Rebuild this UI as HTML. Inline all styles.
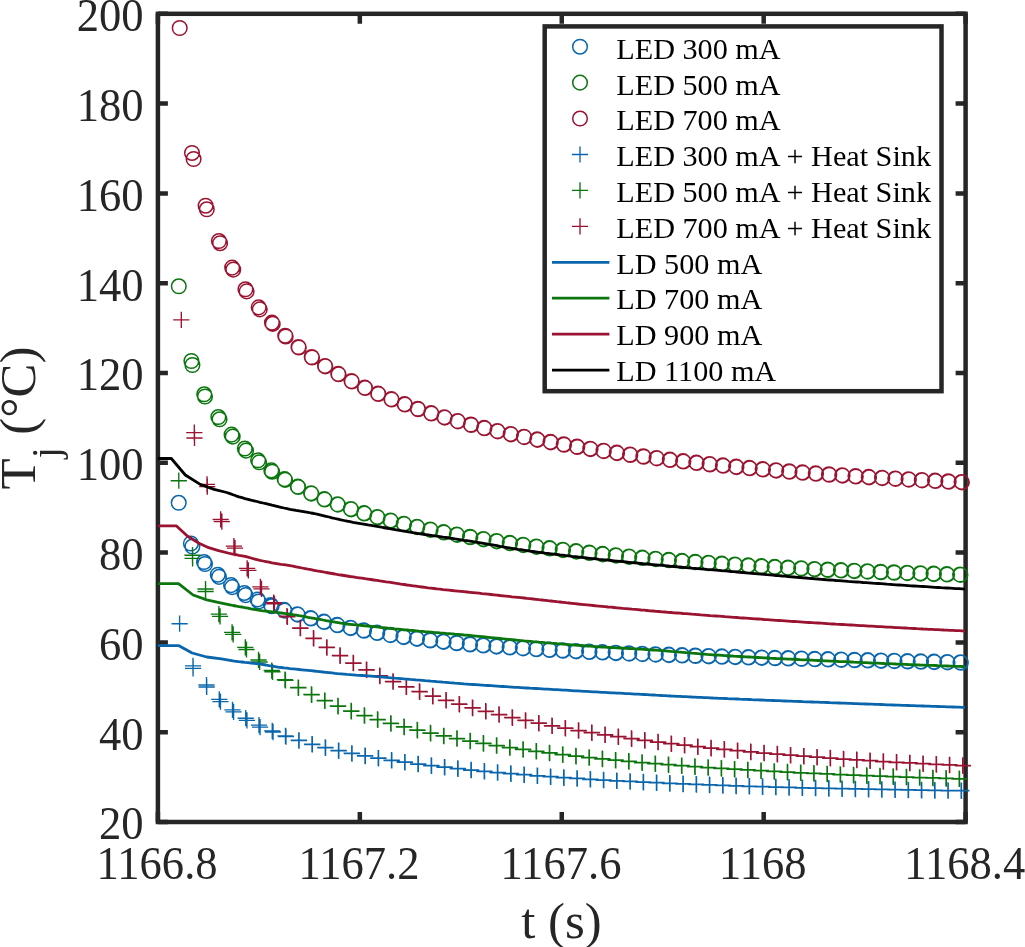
<!DOCTYPE html><html><head><meta charset="utf-8"><style>html,body{margin:0;padding:0;background:#fff;}svg{display:block;filter:blur(0.3px);}text{font-family:"Liberation Serif",serif;fill:#262626;}</style></head><body>
<svg width="1025" height="947" viewBox="0 0 1025 947">
<rect x="0" y="0" width="1025" height="947" fill="#fff"/>
<g stroke="#262626" stroke-width="4.5" fill="none" stroke-linecap="square">
<rect x="157.9" y="13.8" width="807.70" height="808.20"/>
<path d="M157.90 822.00H167.90M965.60 822.00H955.60M157.90 732.20H167.90M965.60 732.20H955.60M157.90 642.40H167.90M965.60 642.40H955.60M157.90 552.60H167.90M965.60 552.60H955.60M157.90 462.80H167.90M965.60 462.80H955.60M157.90 373.00H167.90M965.60 373.00H955.60M157.90 283.20H167.90M965.60 283.20H955.60M157.90 193.40H167.90M965.60 193.40H955.60M157.90 103.60H167.90M965.60 103.60H955.60M157.90 13.80H167.90M965.60 13.80H955.60M157.90 822.00V812.00M157.90 13.80V23.80M359.83 822.00V812.00M359.83 13.80V23.80M561.75 822.00V812.00M561.75 13.80V23.80M763.68 822.00V812.00M763.68 13.80V23.80M965.60 822.00V812.00M965.60 13.80V23.80" stroke-linecap="butt"/>
</g>
<text transform="matrix(1 0 0 1.045 0 -37.075)" x="143.6" y="838.80" font-size="44.6" text-anchor="end">20</text>
<text transform="matrix(1 0 0 1.045 0 -33.034)" x="143.6" y="749.00" font-size="44.6" text-anchor="end">40</text>
<text transform="matrix(1 0 0 1.045 0 -28.993)" x="143.6" y="659.20" font-size="44.6" text-anchor="end">60</text>
<text transform="matrix(1 0 0 1.045 0 -24.952)" x="143.6" y="569.40" font-size="44.6" text-anchor="end">80</text>
<text transform="matrix(1 0 0 1.045 0 -20.911)" x="143.6" y="479.60" font-size="44.6" text-anchor="end">100</text>
<text transform="matrix(1 0 0 1.045 0 -16.870)" x="143.6" y="389.80" font-size="44.6" text-anchor="end">120</text>
<text transform="matrix(1 0 0 1.045 0 -12.829)" x="143.6" y="300.00" font-size="44.6" text-anchor="end">140</text>
<text transform="matrix(1 0 0 1.045 0 -8.788)" x="143.6" y="210.20" font-size="44.6" text-anchor="end">160</text>
<text transform="matrix(1 0 0 1.045 0 -4.747)" x="143.6" y="120.40" font-size="44.6" text-anchor="end">180</text>
<text transform="matrix(1 0 0 1.045 0 -0.706)" x="143.6" y="30.60" font-size="44.6" text-anchor="end">200</text>
<text transform="matrix(1 0 0 1.045 0 -38.839)" x="157.10" y="878.4" font-size="44.6" text-anchor="middle">1166.8</text>
<text transform="matrix(1 0 0 1.045 0 -38.839)" x="359.03" y="878.4" font-size="44.6" text-anchor="middle">1167.2</text>
<text transform="matrix(1 0 0 1.045 0 -38.839)" x="560.95" y="878.4" font-size="44.6" text-anchor="middle">1167.6</text>
<text transform="matrix(1 0 0 1.045 0 -38.839)" x="762.88" y="878.4" font-size="44.6" text-anchor="middle">1168</text>
<text transform="matrix(1 0 0 1.045 0 -38.839)" x="964.80" y="878.4" font-size="44.6" text-anchor="middle">1168.4</text>
<text x="561.5" y="938" font-size="50.8" text-anchor="middle">t (s)</text>
<text transform="translate(34.6 418.0) rotate(-90)" font-size="50.8" text-anchor="middle">T<tspan font-size="39.5" dy="24.2">j</tspan><tspan dy="-24.2"> (°C)</tspan></text>
<path d="M171.40 502.80a7.3 7.3 0 1 0 14.6 0a7.3 7.3 0 1 0 -14.6 0M183.60 543.50a7.3 7.3 0 1 0 14.6 0a7.3 7.3 0 1 0 -14.6 0M185.10 546.50a7.3 7.3 0 1 0 14.6 0a7.3 7.3 0 1 0 -14.6 0M196.70 562.00a7.3 7.3 0 1 0 14.6 0a7.3 7.3 0 1 0 -14.6 0M197.70 564.00a7.3 7.3 0 1 0 14.6 0a7.3 7.3 0 1 0 -14.6 0M210.49 574.70a7.3 7.3 0 1 0 14.6 0a7.3 7.3 0 1 0 -14.6 0M211.69 576.90a7.3 7.3 0 1 0 14.6 0a7.3 7.3 0 1 0 -14.6 0M223.75 585.15a7.3 7.3 0 1 0 14.6 0a7.3 7.3 0 1 0 -14.6 0M224.85 587.15a7.3 7.3 0 1 0 14.6 0a7.3 7.3 0 1 0 -14.6 0M237.01 592.99a7.3 7.3 0 1 0 14.6 0a7.3 7.3 0 1 0 -14.6 0M238.21 595.09a7.3 7.3 0 1 0 14.6 0a7.3 7.3 0 1 0 -14.6 0M250.27 599.43a7.3 7.3 0 1 0 14.6 0a7.3 7.3 0 1 0 -14.6 0M251.37 601.43a7.3 7.3 0 1 0 14.6 0a7.3 7.3 0 1 0 -14.6 0M263.53 604.97a7.3 7.3 0 1 0 14.6 0a7.3 7.3 0 1 0 -14.6 0M264.33 606.27a7.3 7.3 0 1 0 14.6 0a7.3 7.3 0 1 0 -14.6 0M276.80 609.86a7.3 7.3 0 1 0 14.6 0a7.3 7.3 0 1 0 -14.6 0M277.30 610.66a7.3 7.3 0 1 0 14.6 0a7.3 7.3 0 1 0 -14.6 0M290.06 614.23a7.3 7.3 0 1 0 14.6 0a7.3 7.3 0 1 0 -14.6 0M290.41 614.63a7.3 7.3 0 1 0 14.6 0a7.3 7.3 0 1 0 -14.6 0M303.32 618.15a7.3 7.3 0 1 0 14.6 0a7.3 7.3 0 1 0 -14.6 0M303.67 618.55a7.3 7.3 0 1 0 14.6 0a7.3 7.3 0 1 0 -14.6 0M316.58 621.67a7.3 7.3 0 1 0 14.6 0a7.3 7.3 0 1 0 -14.6 0M316.93 622.07a7.3 7.3 0 1 0 14.6 0a7.3 7.3 0 1 0 -14.6 0M329.84 624.84a7.3 7.3 0 1 0 14.6 0a7.3 7.3 0 1 0 -14.6 0M330.19 625.24a7.3 7.3 0 1 0 14.6 0a7.3 7.3 0 1 0 -14.6 0M343.11 627.71a7.3 7.3 0 1 0 14.6 0a7.3 7.3 0 1 0 -14.6 0M343.46 628.11a7.3 7.3 0 1 0 14.6 0a7.3 7.3 0 1 0 -14.6 0M356.37 630.30a7.3 7.3 0 1 0 14.6 0a7.3 7.3 0 1 0 -14.6 0M356.72 630.70a7.3 7.3 0 1 0 14.6 0a7.3 7.3 0 1 0 -14.6 0M369.63 632.64a7.3 7.3 0 1 0 14.6 0a7.3 7.3 0 1 0 -14.6 0M369.98 633.04a7.3 7.3 0 1 0 14.6 0a7.3 7.3 0 1 0 -14.6 0M382.89 634.76a7.3 7.3 0 1 0 14.6 0a7.3 7.3 0 1 0 -14.6 0M383.24 635.16a7.3 7.3 0 1 0 14.6 0a7.3 7.3 0 1 0 -14.6 0M396.15 636.69a7.3 7.3 0 1 0 14.6 0a7.3 7.3 0 1 0 -14.6 0M396.50 637.09a7.3 7.3 0 1 0 14.6 0a7.3 7.3 0 1 0 -14.6 0M409.42 638.44a7.3 7.3 0 1 0 14.6 0a7.3 7.3 0 1 0 -14.6 0M409.77 638.84a7.3 7.3 0 1 0 14.6 0a7.3 7.3 0 1 0 -14.6 0M422.68 640.04a7.3 7.3 0 1 0 14.6 0a7.3 7.3 0 1 0 -14.6 0M423.03 640.44a7.3 7.3 0 1 0 14.6 0a7.3 7.3 0 1 0 -14.6 0M435.94 641.49a7.3 7.3 0 1 0 14.6 0a7.3 7.3 0 1 0 -14.6 0M436.29 641.89a7.3 7.3 0 1 0 14.6 0a7.3 7.3 0 1 0 -14.6 0M449.20 642.82a7.3 7.3 0 1 0 14.6 0a7.3 7.3 0 1 0 -14.6 0M449.55 643.22a7.3 7.3 0 1 0 14.6 0a7.3 7.3 0 1 0 -14.6 0M462.46 644.04a7.3 7.3 0 1 0 14.6 0a7.3 7.3 0 1 0 -14.6 0M462.81 644.44a7.3 7.3 0 1 0 14.6 0a7.3 7.3 0 1 0 -14.6 0M475.73 645.16a7.3 7.3 0 1 0 14.6 0a7.3 7.3 0 1 0 -14.6 0M476.08 645.56a7.3 7.3 0 1 0 14.6 0a7.3 7.3 0 1 0 -14.6 0M488.99 646.19a7.3 7.3 0 1 0 14.6 0a7.3 7.3 0 1 0 -14.6 0M489.34 646.59a7.3 7.3 0 1 0 14.6 0a7.3 7.3 0 1 0 -14.6 0M502.25 647.14a7.3 7.3 0 1 0 14.6 0a7.3 7.3 0 1 0 -14.6 0M502.60 647.54a7.3 7.3 0 1 0 14.6 0a7.3 7.3 0 1 0 -14.6 0M515.51 648.02a7.3 7.3 0 1 0 14.6 0a7.3 7.3 0 1 0 -14.6 0M515.86 648.42a7.3 7.3 0 1 0 14.6 0a7.3 7.3 0 1 0 -14.6 0M528.77 648.83a7.3 7.3 0 1 0 14.6 0a7.3 7.3 0 1 0 -14.6 0M529.12 649.23a7.3 7.3 0 1 0 14.6 0a7.3 7.3 0 1 0 -14.6 0M542.04 649.59a7.3 7.3 0 1 0 14.6 0a7.3 7.3 0 1 0 -14.6 0M542.39 649.99a7.3 7.3 0 1 0 14.6 0a7.3 7.3 0 1 0 -14.6 0M555.30 650.30a7.3 7.3 0 1 0 14.6 0a7.3 7.3 0 1 0 -14.6 0M555.65 650.70a7.3 7.3 0 1 0 14.6 0a7.3 7.3 0 1 0 -14.6 0M568.56 650.97a7.3 7.3 0 1 0 14.6 0a7.3 7.3 0 1 0 -14.6 0M568.91 651.37a7.3 7.3 0 1 0 14.6 0a7.3 7.3 0 1 0 -14.6 0M581.82 651.59a7.3 7.3 0 1 0 14.6 0a7.3 7.3 0 1 0 -14.6 0M582.17 651.99a7.3 7.3 0 1 0 14.6 0a7.3 7.3 0 1 0 -14.6 0M595.08 652.17a7.3 7.3 0 1 0 14.6 0a7.3 7.3 0 1 0 -14.6 0M595.43 652.57a7.3 7.3 0 1 0 14.6 0a7.3 7.3 0 1 0 -14.6 0M608.35 652.73a7.3 7.3 0 1 0 14.6 0a7.3 7.3 0 1 0 -14.6 0M608.70 653.13a7.3 7.3 0 1 0 14.6 0a7.3 7.3 0 1 0 -14.6 0M621.61 653.25a7.3 7.3 0 1 0 14.6 0a7.3 7.3 0 1 0 -14.6 0M621.96 653.65a7.3 7.3 0 1 0 14.6 0a7.3 7.3 0 1 0 -14.6 0M634.87 653.75a7.3 7.3 0 1 0 14.6 0a7.3 7.3 0 1 0 -14.6 0M635.22 654.15a7.3 7.3 0 1 0 14.6 0a7.3 7.3 0 1 0 -14.6 0M648.13 654.23a7.3 7.3 0 1 0 14.6 0a7.3 7.3 0 1 0 -14.6 0M648.48 654.63a7.3 7.3 0 1 0 14.6 0a7.3 7.3 0 1 0 -14.6 0M661.39 654.69a7.3 7.3 0 1 0 14.6 0a7.3 7.3 0 1 0 -14.6 0M661.74 655.09a7.3 7.3 0 1 0 14.6 0a7.3 7.3 0 1 0 -14.6 0M674.66 655.13a7.3 7.3 0 1 0 14.6 0a7.3 7.3 0 1 0 -14.6 0M675.01 655.53a7.3 7.3 0 1 0 14.6 0a7.3 7.3 0 1 0 -14.6 0M687.92 655.55a7.3 7.3 0 1 0 14.6 0a7.3 7.3 0 1 0 -14.6 0M688.27 655.95a7.3 7.3 0 1 0 14.6 0a7.3 7.3 0 1 0 -14.6 0M701.18 655.96a7.3 7.3 0 1 0 14.6 0a7.3 7.3 0 1 0 -14.6 0M701.53 656.36a7.3 7.3 0 1 0 14.6 0a7.3 7.3 0 1 0 -14.6 0M714.44 656.35a7.3 7.3 0 1 0 14.6 0a7.3 7.3 0 1 0 -14.6 0M714.79 656.75a7.3 7.3 0 1 0 14.6 0a7.3 7.3 0 1 0 -14.6 0M727.70 656.73a7.3 7.3 0 1 0 14.6 0a7.3 7.3 0 1 0 -14.6 0M728.05 657.13a7.3 7.3 0 1 0 14.6 0a7.3 7.3 0 1 0 -14.6 0M740.97 657.10a7.3 7.3 0 1 0 14.6 0a7.3 7.3 0 1 0 -14.6 0M741.32 657.50a7.3 7.3 0 1 0 14.6 0a7.3 7.3 0 1 0 -14.6 0M754.23 657.47a7.3 7.3 0 1 0 14.6 0a7.3 7.3 0 1 0 -14.6 0M754.58 657.87a7.3 7.3 0 1 0 14.6 0a7.3 7.3 0 1 0 -14.6 0M767.49 657.82a7.3 7.3 0 1 0 14.6 0a7.3 7.3 0 1 0 -14.6 0M767.84 658.22a7.3 7.3 0 1 0 14.6 0a7.3 7.3 0 1 0 -14.6 0M780.75 658.17a7.3 7.3 0 1 0 14.6 0a7.3 7.3 0 1 0 -14.6 0M781.10 658.57a7.3 7.3 0 1 0 14.6 0a7.3 7.3 0 1 0 -14.6 0M794.01 658.51a7.3 7.3 0 1 0 14.6 0a7.3 7.3 0 1 0 -14.6 0M794.36 658.91a7.3 7.3 0 1 0 14.6 0a7.3 7.3 0 1 0 -14.6 0M807.28 658.84a7.3 7.3 0 1 0 14.6 0a7.3 7.3 0 1 0 -14.6 0M807.63 659.24a7.3 7.3 0 1 0 14.6 0a7.3 7.3 0 1 0 -14.6 0M820.54 659.17a7.3 7.3 0 1 0 14.6 0a7.3 7.3 0 1 0 -14.6 0M820.89 659.57a7.3 7.3 0 1 0 14.6 0a7.3 7.3 0 1 0 -14.6 0M833.80 659.50a7.3 7.3 0 1 0 14.6 0a7.3 7.3 0 1 0 -14.6 0M834.15 659.90a7.3 7.3 0 1 0 14.6 0a7.3 7.3 0 1 0 -14.6 0M847.06 659.82a7.3 7.3 0 1 0 14.6 0a7.3 7.3 0 1 0 -14.6 0M847.41 660.22a7.3 7.3 0 1 0 14.6 0a7.3 7.3 0 1 0 -14.6 0M860.32 660.14a7.3 7.3 0 1 0 14.6 0a7.3 7.3 0 1 0 -14.6 0M860.67 660.54a7.3 7.3 0 1 0 14.6 0a7.3 7.3 0 1 0 -14.6 0M873.59 660.45a7.3 7.3 0 1 0 14.6 0a7.3 7.3 0 1 0 -14.6 0M873.94 660.85a7.3 7.3 0 1 0 14.6 0a7.3 7.3 0 1 0 -14.6 0M886.85 660.76a7.3 7.3 0 1 0 14.6 0a7.3 7.3 0 1 0 -14.6 0M887.20 661.16a7.3 7.3 0 1 0 14.6 0a7.3 7.3 0 1 0 -14.6 0M900.11 661.07a7.3 7.3 0 1 0 14.6 0a7.3 7.3 0 1 0 -14.6 0M900.46 661.47a7.3 7.3 0 1 0 14.6 0a7.3 7.3 0 1 0 -14.6 0M913.37 661.37a7.3 7.3 0 1 0 14.6 0a7.3 7.3 0 1 0 -14.6 0M913.72 661.77a7.3 7.3 0 1 0 14.6 0a7.3 7.3 0 1 0 -14.6 0M926.63 661.67a7.3 7.3 0 1 0 14.6 0a7.3 7.3 0 1 0 -14.6 0M926.98 662.07a7.3 7.3 0 1 0 14.6 0a7.3 7.3 0 1 0 -14.6 0M939.90 661.98a7.3 7.3 0 1 0 14.6 0a7.3 7.3 0 1 0 -14.6 0M940.25 662.38a7.3 7.3 0 1 0 14.6 0a7.3 7.3 0 1 0 -14.6 0M953.16 662.28a7.3 7.3 0 1 0 14.6 0a7.3 7.3 0 1 0 -14.6 0M953.51 662.68a7.3 7.3 0 1 0 14.6 0a7.3 7.3 0 1 0 -14.6 0" fill="none" stroke="#0A66AC" stroke-width="1.5"/>
<path d="M171.50 286.30a7.3 7.3 0 1 0 14.6 0a7.3 7.3 0 1 0 -14.6 0M184.10 361.00a7.3 7.3 0 1 0 14.6 0a7.3 7.3 0 1 0 -14.6 0M185.10 365.00a7.3 7.3 0 1 0 14.6 0a7.3 7.3 0 1 0 -14.6 0M196.90 394.30a7.3 7.3 0 1 0 14.6 0a7.3 7.3 0 1 0 -14.6 0M197.70 396.50a7.3 7.3 0 1 0 14.6 0a7.3 7.3 0 1 0 -14.6 0M211.03 417.06a7.3 7.3 0 1 0 14.6 0a7.3 7.3 0 1 0 -14.6 0M212.23 419.26a7.3 7.3 0 1 0 14.6 0a7.3 7.3 0 1 0 -14.6 0M224.28 434.65a7.3 7.3 0 1 0 14.6 0a7.3 7.3 0 1 0 -14.6 0M225.38 436.65a7.3 7.3 0 1 0 14.6 0a7.3 7.3 0 1 0 -14.6 0M237.52 448.54a7.3 7.3 0 1 0 14.6 0a7.3 7.3 0 1 0 -14.6 0M238.72 450.64a7.3 7.3 0 1 0 14.6 0a7.3 7.3 0 1 0 -14.6 0M250.77 460.32a7.3 7.3 0 1 0 14.6 0a7.3 7.3 0 1 0 -14.6 0M251.87 462.32a7.3 7.3 0 1 0 14.6 0a7.3 7.3 0 1 0 -14.6 0M264.01 470.40a7.3 7.3 0 1 0 14.6 0a7.3 7.3 0 1 0 -14.6 0M264.81 471.70a7.3 7.3 0 1 0 14.6 0a7.3 7.3 0 1 0 -14.6 0M277.26 479.09a7.3 7.3 0 1 0 14.6 0a7.3 7.3 0 1 0 -14.6 0M277.76 479.89a7.3 7.3 0 1 0 14.6 0a7.3 7.3 0 1 0 -14.6 0M290.50 486.63a7.3 7.3 0 1 0 14.6 0a7.3 7.3 0 1 0 -14.6 0M290.86 487.03a7.3 7.3 0 1 0 14.6 0a7.3 7.3 0 1 0 -14.6 0M303.75 493.24a7.3 7.3 0 1 0 14.6 0a7.3 7.3 0 1 0 -14.6 0M304.10 493.64a7.3 7.3 0 1 0 14.6 0a7.3 7.3 0 1 0 -14.6 0M316.99 499.08a7.3 7.3 0 1 0 14.6 0a7.3 7.3 0 1 0 -14.6 0M317.34 499.48a7.3 7.3 0 1 0 14.6 0a7.3 7.3 0 1 0 -14.6 0M330.24 504.27a7.3 7.3 0 1 0 14.6 0a7.3 7.3 0 1 0 -14.6 0M330.59 504.67a7.3 7.3 0 1 0 14.6 0a7.3 7.3 0 1 0 -14.6 0M343.48 508.94a7.3 7.3 0 1 0 14.6 0a7.3 7.3 0 1 0 -14.6 0M343.83 509.34a7.3 7.3 0 1 0 14.6 0a7.3 7.3 0 1 0 -14.6 0M356.73 513.15a7.3 7.3 0 1 0 14.6 0a7.3 7.3 0 1 0 -14.6 0M357.08 513.55a7.3 7.3 0 1 0 14.6 0a7.3 7.3 0 1 0 -14.6 0M369.97 516.98a7.3 7.3 0 1 0 14.6 0a7.3 7.3 0 1 0 -14.6 0M370.32 517.38a7.3 7.3 0 1 0 14.6 0a7.3 7.3 0 1 0 -14.6 0M383.22 520.49a7.3 7.3 0 1 0 14.6 0a7.3 7.3 0 1 0 -14.6 0M383.57 520.89a7.3 7.3 0 1 0 14.6 0a7.3 7.3 0 1 0 -14.6 0M396.46 523.72a7.3 7.3 0 1 0 14.6 0a7.3 7.3 0 1 0 -14.6 0M396.81 524.12a7.3 7.3 0 1 0 14.6 0a7.3 7.3 0 1 0 -14.6 0M409.71 526.71a7.3 7.3 0 1 0 14.6 0a7.3 7.3 0 1 0 -14.6 0M410.06 527.11a7.3 7.3 0 1 0 14.6 0a7.3 7.3 0 1 0 -14.6 0M422.95 529.49a7.3 7.3 0 1 0 14.6 0a7.3 7.3 0 1 0 -14.6 0M423.31 529.89a7.3 7.3 0 1 0 14.6 0a7.3 7.3 0 1 0 -14.6 0M436.20 532.08a7.3 7.3 0 1 0 14.6 0a7.3 7.3 0 1 0 -14.6 0M436.55 532.48a7.3 7.3 0 1 0 14.6 0a7.3 7.3 0 1 0 -14.6 0M449.44 534.52a7.3 7.3 0 1 0 14.6 0a7.3 7.3 0 1 0 -14.6 0M449.80 534.92a7.3 7.3 0 1 0 14.6 0a7.3 7.3 0 1 0 -14.6 0M462.69 536.80a7.3 7.3 0 1 0 14.6 0a7.3 7.3 0 1 0 -14.6 0M463.04 537.20a7.3 7.3 0 1 0 14.6 0a7.3 7.3 0 1 0 -14.6 0M475.94 538.95a7.3 7.3 0 1 0 14.6 0a7.3 7.3 0 1 0 -14.6 0M476.29 539.35a7.3 7.3 0 1 0 14.6 0a7.3 7.3 0 1 0 -14.6 0M489.18 540.99a7.3 7.3 0 1 0 14.6 0a7.3 7.3 0 1 0 -14.6 0M489.53 541.39a7.3 7.3 0 1 0 14.6 0a7.3 7.3 0 1 0 -14.6 0M502.43 542.91a7.3 7.3 0 1 0 14.6 0a7.3 7.3 0 1 0 -14.6 0M502.78 543.31a7.3 7.3 0 1 0 14.6 0a7.3 7.3 0 1 0 -14.6 0M515.67 544.74a7.3 7.3 0 1 0 14.6 0a7.3 7.3 0 1 0 -14.6 0M516.02 545.14a7.3 7.3 0 1 0 14.6 0a7.3 7.3 0 1 0 -14.6 0M528.91 546.47a7.3 7.3 0 1 0 14.6 0a7.3 7.3 0 1 0 -14.6 0M529.26 546.87a7.3 7.3 0 1 0 14.6 0a7.3 7.3 0 1 0 -14.6 0M542.16 548.11a7.3 7.3 0 1 0 14.6 0a7.3 7.3 0 1 0 -14.6 0M542.51 548.51a7.3 7.3 0 1 0 14.6 0a7.3 7.3 0 1 0 -14.6 0M555.40 549.68a7.3 7.3 0 1 0 14.6 0a7.3 7.3 0 1 0 -14.6 0M555.75 550.08a7.3 7.3 0 1 0 14.6 0a7.3 7.3 0 1 0 -14.6 0M568.65 551.17a7.3 7.3 0 1 0 14.6 0a7.3 7.3 0 1 0 -14.6 0M569.00 551.57a7.3 7.3 0 1 0 14.6 0a7.3 7.3 0 1 0 -14.6 0M581.89 552.59a7.3 7.3 0 1 0 14.6 0a7.3 7.3 0 1 0 -14.6 0M582.25 552.99a7.3 7.3 0 1 0 14.6 0a7.3 7.3 0 1 0 -14.6 0M595.14 553.94a7.3 7.3 0 1 0 14.6 0a7.3 7.3 0 1 0 -14.6 0M595.49 554.34a7.3 7.3 0 1 0 14.6 0a7.3 7.3 0 1 0 -14.6 0M608.38 555.23a7.3 7.3 0 1 0 14.6 0a7.3 7.3 0 1 0 -14.6 0M608.74 555.63a7.3 7.3 0 1 0 14.6 0a7.3 7.3 0 1 0 -14.6 0M621.63 556.47a7.3 7.3 0 1 0 14.6 0a7.3 7.3 0 1 0 -14.6 0M621.98 556.87a7.3 7.3 0 1 0 14.6 0a7.3 7.3 0 1 0 -14.6 0M634.88 557.64a7.3 7.3 0 1 0 14.6 0a7.3 7.3 0 1 0 -14.6 0M635.23 558.04a7.3 7.3 0 1 0 14.6 0a7.3 7.3 0 1 0 -14.6 0M648.12 558.77a7.3 7.3 0 1 0 14.6 0a7.3 7.3 0 1 0 -14.6 0M648.47 559.17a7.3 7.3 0 1 0 14.6 0a7.3 7.3 0 1 0 -14.6 0M661.37 559.84a7.3 7.3 0 1 0 14.6 0a7.3 7.3 0 1 0 -14.6 0M661.72 560.24a7.3 7.3 0 1 0 14.6 0a7.3 7.3 0 1 0 -14.6 0M674.61 560.86a7.3 7.3 0 1 0 14.6 0a7.3 7.3 0 1 0 -14.6 0M674.96 561.26a7.3 7.3 0 1 0 14.6 0a7.3 7.3 0 1 0 -14.6 0M687.86 561.84a7.3 7.3 0 1 0 14.6 0a7.3 7.3 0 1 0 -14.6 0M688.21 562.24a7.3 7.3 0 1 0 14.6 0a7.3 7.3 0 1 0 -14.6 0M701.10 562.78a7.3 7.3 0 1 0 14.6 0a7.3 7.3 0 1 0 -14.6 0M701.45 563.18a7.3 7.3 0 1 0 14.6 0a7.3 7.3 0 1 0 -14.6 0M714.35 563.67a7.3 7.3 0 1 0 14.6 0a7.3 7.3 0 1 0 -14.6 0M714.70 564.07a7.3 7.3 0 1 0 14.6 0a7.3 7.3 0 1 0 -14.6 0M727.59 564.53a7.3 7.3 0 1 0 14.6 0a7.3 7.3 0 1 0 -14.6 0M727.94 564.93a7.3 7.3 0 1 0 14.6 0a7.3 7.3 0 1 0 -14.6 0M740.84 565.35a7.3 7.3 0 1 0 14.6 0a7.3 7.3 0 1 0 -14.6 0M741.19 565.75a7.3 7.3 0 1 0 14.6 0a7.3 7.3 0 1 0 -14.6 0M754.08 566.13a7.3 7.3 0 1 0 14.6 0a7.3 7.3 0 1 0 -14.6 0M754.43 566.53a7.3 7.3 0 1 0 14.6 0a7.3 7.3 0 1 0 -14.6 0M767.33 566.88a7.3 7.3 0 1 0 14.6 0a7.3 7.3 0 1 0 -14.6 0M767.68 567.28a7.3 7.3 0 1 0 14.6 0a7.3 7.3 0 1 0 -14.6 0M780.57 567.59a7.3 7.3 0 1 0 14.6 0a7.3 7.3 0 1 0 -14.6 0M780.92 567.99a7.3 7.3 0 1 0 14.6 0a7.3 7.3 0 1 0 -14.6 0M793.82 568.27a7.3 7.3 0 1 0 14.6 0a7.3 7.3 0 1 0 -14.6 0M794.17 568.67a7.3 7.3 0 1 0 14.6 0a7.3 7.3 0 1 0 -14.6 0M807.06 568.93a7.3 7.3 0 1 0 14.6 0a7.3 7.3 0 1 0 -14.6 0M807.41 569.33a7.3 7.3 0 1 0 14.6 0a7.3 7.3 0 1 0 -14.6 0M820.31 569.55a7.3 7.3 0 1 0 14.6 0a7.3 7.3 0 1 0 -14.6 0M820.66 569.95a7.3 7.3 0 1 0 14.6 0a7.3 7.3 0 1 0 -14.6 0M833.55 570.15a7.3 7.3 0 1 0 14.6 0a7.3 7.3 0 1 0 -14.6 0M833.90 570.55a7.3 7.3 0 1 0 14.6 0a7.3 7.3 0 1 0 -14.6 0M846.80 570.72a7.3 7.3 0 1 0 14.6 0a7.3 7.3 0 1 0 -14.6 0M847.15 571.12a7.3 7.3 0 1 0 14.6 0a7.3 7.3 0 1 0 -14.6 0M860.04 571.27a7.3 7.3 0 1 0 14.6 0a7.3 7.3 0 1 0 -14.6 0M860.39 571.67a7.3 7.3 0 1 0 14.6 0a7.3 7.3 0 1 0 -14.6 0M873.29 571.79a7.3 7.3 0 1 0 14.6 0a7.3 7.3 0 1 0 -14.6 0M873.64 572.19a7.3 7.3 0 1 0 14.6 0a7.3 7.3 0 1 0 -14.6 0M886.53 572.29a7.3 7.3 0 1 0 14.6 0a7.3 7.3 0 1 0 -14.6 0M886.88 572.69a7.3 7.3 0 1 0 14.6 0a7.3 7.3 0 1 0 -14.6 0M899.77 572.77a7.3 7.3 0 1 0 14.6 0a7.3 7.3 0 1 0 -14.6 0M900.12 573.17a7.3 7.3 0 1 0 14.6 0a7.3 7.3 0 1 0 -14.6 0M913.02 573.22a7.3 7.3 0 1 0 14.6 0a7.3 7.3 0 1 0 -14.6 0M913.37 573.62a7.3 7.3 0 1 0 14.6 0a7.3 7.3 0 1 0 -14.6 0M926.26 573.66a7.3 7.3 0 1 0 14.6 0a7.3 7.3 0 1 0 -14.6 0M926.62 574.06a7.3 7.3 0 1 0 14.6 0a7.3 7.3 0 1 0 -14.6 0M939.51 574.08a7.3 7.3 0 1 0 14.6 0a7.3 7.3 0 1 0 -14.6 0M939.86 574.48a7.3 7.3 0 1 0 14.6 0a7.3 7.3 0 1 0 -14.6 0M952.75 574.48a7.3 7.3 0 1 0 14.6 0a7.3 7.3 0 1 0 -14.6 0M953.11 574.88a7.3 7.3 0 1 0 14.6 0a7.3 7.3 0 1 0 -14.6 0" fill="none" stroke="#0B750E" stroke-width="1.5"/>
<path d="M172.40 28.00a7.3 7.3 0 1 0 14.6 0a7.3 7.3 0 1 0 -14.6 0M184.70 152.95a7.3 7.3 0 1 0 14.6 0a7.3 7.3 0 1 0 -14.6 0M186.30 159.00a7.3 7.3 0 1 0 14.6 0a7.3 7.3 0 1 0 -14.6 0M198.30 205.70a7.3 7.3 0 1 0 14.6 0a7.3 7.3 0 1 0 -14.6 0M199.50 209.30a7.3 7.3 0 1 0 14.6 0a7.3 7.3 0 1 0 -14.6 0M211.59 241.02a7.3 7.3 0 1 0 14.6 0a7.3 7.3 0 1 0 -14.6 0M212.79 243.22a7.3 7.3 0 1 0 14.6 0a7.3 7.3 0 1 0 -14.6 0M224.85 267.58a7.3 7.3 0 1 0 14.6 0a7.3 7.3 0 1 0 -14.6 0M225.95 269.58a7.3 7.3 0 1 0 14.6 0a7.3 7.3 0 1 0 -14.6 0M238.11 289.28a7.3 7.3 0 1 0 14.6 0a7.3 7.3 0 1 0 -14.6 0M239.31 291.38a7.3 7.3 0 1 0 14.6 0a7.3 7.3 0 1 0 -14.6 0M251.37 307.33a7.3 7.3 0 1 0 14.6 0a7.3 7.3 0 1 0 -14.6 0M252.47 309.33a7.3 7.3 0 1 0 14.6 0a7.3 7.3 0 1 0 -14.6 0M264.63 322.59a7.3 7.3 0 1 0 14.6 0a7.3 7.3 0 1 0 -14.6 0M265.43 323.89a7.3 7.3 0 1 0 14.6 0a7.3 7.3 0 1 0 -14.6 0M277.90 335.68a7.3 7.3 0 1 0 14.6 0a7.3 7.3 0 1 0 -14.6 0M278.40 336.48a7.3 7.3 0 1 0 14.6 0a7.3 7.3 0 1 0 -14.6 0M291.16 347.06a7.3 7.3 0 1 0 14.6 0a7.3 7.3 0 1 0 -14.6 0M291.51 347.46a7.3 7.3 0 1 0 14.6 0a7.3 7.3 0 1 0 -14.6 0M304.42 357.06a7.3 7.3 0 1 0 14.6 0a7.3 7.3 0 1 0 -14.6 0M304.77 357.46a7.3 7.3 0 1 0 14.6 0a7.3 7.3 0 1 0 -14.6 0M317.68 365.95a7.3 7.3 0 1 0 14.6 0a7.3 7.3 0 1 0 -14.6 0M318.03 366.35a7.3 7.3 0 1 0 14.6 0a7.3 7.3 0 1 0 -14.6 0M330.94 373.92a7.3 7.3 0 1 0 14.6 0a7.3 7.3 0 1 0 -14.6 0M331.29 374.32a7.3 7.3 0 1 0 14.6 0a7.3 7.3 0 1 0 -14.6 0M344.21 381.10a7.3 7.3 0 1 0 14.6 0a7.3 7.3 0 1 0 -14.6 0M344.56 381.50a7.3 7.3 0 1 0 14.6 0a7.3 7.3 0 1 0 -14.6 0M357.47 387.63a7.3 7.3 0 1 0 14.6 0a7.3 7.3 0 1 0 -14.6 0M357.82 388.03a7.3 7.3 0 1 0 14.6 0a7.3 7.3 0 1 0 -14.6 0M370.73 393.60a7.3 7.3 0 1 0 14.6 0a7.3 7.3 0 1 0 -14.6 0M371.08 394.00a7.3 7.3 0 1 0 14.6 0a7.3 7.3 0 1 0 -14.6 0M383.99 399.08a7.3 7.3 0 1 0 14.6 0a7.3 7.3 0 1 0 -14.6 0M384.34 399.48a7.3 7.3 0 1 0 14.6 0a7.3 7.3 0 1 0 -14.6 0M397.25 404.13a7.3 7.3 0 1 0 14.6 0a7.3 7.3 0 1 0 -14.6 0M397.60 404.53a7.3 7.3 0 1 0 14.6 0a7.3 7.3 0 1 0 -14.6 0M410.52 408.81a7.3 7.3 0 1 0 14.6 0a7.3 7.3 0 1 0 -14.6 0M410.87 409.21a7.3 7.3 0 1 0 14.6 0a7.3 7.3 0 1 0 -14.6 0M423.78 413.16a7.3 7.3 0 1 0 14.6 0a7.3 7.3 0 1 0 -14.6 0M424.13 413.56a7.3 7.3 0 1 0 14.6 0a7.3 7.3 0 1 0 -14.6 0M437.04 417.21a7.3 7.3 0 1 0 14.6 0a7.3 7.3 0 1 0 -14.6 0M437.39 417.61a7.3 7.3 0 1 0 14.6 0a7.3 7.3 0 1 0 -14.6 0M450.30 421.00a7.3 7.3 0 1 0 14.6 0a7.3 7.3 0 1 0 -14.6 0M450.65 421.40a7.3 7.3 0 1 0 14.6 0a7.3 7.3 0 1 0 -14.6 0M463.56 424.54a7.3 7.3 0 1 0 14.6 0a7.3 7.3 0 1 0 -14.6 0M463.91 424.94a7.3 7.3 0 1 0 14.6 0a7.3 7.3 0 1 0 -14.6 0M476.83 427.88a7.3 7.3 0 1 0 14.6 0a7.3 7.3 0 1 0 -14.6 0M477.18 428.28a7.3 7.3 0 1 0 14.6 0a7.3 7.3 0 1 0 -14.6 0M490.09 431.01a7.3 7.3 0 1 0 14.6 0a7.3 7.3 0 1 0 -14.6 0M490.44 431.41a7.3 7.3 0 1 0 14.6 0a7.3 7.3 0 1 0 -14.6 0M503.35 433.97a7.3 7.3 0 1 0 14.6 0a7.3 7.3 0 1 0 -14.6 0M503.70 434.37a7.3 7.3 0 1 0 14.6 0a7.3 7.3 0 1 0 -14.6 0M516.61 436.77a7.3 7.3 0 1 0 14.6 0a7.3 7.3 0 1 0 -14.6 0M516.96 437.17a7.3 7.3 0 1 0 14.6 0a7.3 7.3 0 1 0 -14.6 0M529.87 439.41a7.3 7.3 0 1 0 14.6 0a7.3 7.3 0 1 0 -14.6 0M530.22 439.81a7.3 7.3 0 1 0 14.6 0a7.3 7.3 0 1 0 -14.6 0M543.14 441.91a7.3 7.3 0 1 0 14.6 0a7.3 7.3 0 1 0 -14.6 0M543.49 442.31a7.3 7.3 0 1 0 14.6 0a7.3 7.3 0 1 0 -14.6 0M556.40 444.29a7.3 7.3 0 1 0 14.6 0a7.3 7.3 0 1 0 -14.6 0M556.75 444.69a7.3 7.3 0 1 0 14.6 0a7.3 7.3 0 1 0 -14.6 0M569.66 446.55a7.3 7.3 0 1 0 14.6 0a7.3 7.3 0 1 0 -14.6 0M570.01 446.95a7.3 7.3 0 1 0 14.6 0a7.3 7.3 0 1 0 -14.6 0M582.92 448.69a7.3 7.3 0 1 0 14.6 0a7.3 7.3 0 1 0 -14.6 0M583.27 449.09a7.3 7.3 0 1 0 14.6 0a7.3 7.3 0 1 0 -14.6 0M596.18 450.74a7.3 7.3 0 1 0 14.6 0a7.3 7.3 0 1 0 -14.6 0M596.53 451.14a7.3 7.3 0 1 0 14.6 0a7.3 7.3 0 1 0 -14.6 0M609.45 452.68a7.3 7.3 0 1 0 14.6 0a7.3 7.3 0 1 0 -14.6 0M609.80 453.08a7.3 7.3 0 1 0 14.6 0a7.3 7.3 0 1 0 -14.6 0M622.71 454.54a7.3 7.3 0 1 0 14.6 0a7.3 7.3 0 1 0 -14.6 0M623.06 454.94a7.3 7.3 0 1 0 14.6 0a7.3 7.3 0 1 0 -14.6 0M635.97 456.30a7.3 7.3 0 1 0 14.6 0a7.3 7.3 0 1 0 -14.6 0M636.32 456.70a7.3 7.3 0 1 0 14.6 0a7.3 7.3 0 1 0 -14.6 0M649.23 457.99a7.3 7.3 0 1 0 14.6 0a7.3 7.3 0 1 0 -14.6 0M649.58 458.39a7.3 7.3 0 1 0 14.6 0a7.3 7.3 0 1 0 -14.6 0M662.49 459.61a7.3 7.3 0 1 0 14.6 0a7.3 7.3 0 1 0 -14.6 0M662.84 460.01a7.3 7.3 0 1 0 14.6 0a7.3 7.3 0 1 0 -14.6 0M675.76 461.15a7.3 7.3 0 1 0 14.6 0a7.3 7.3 0 1 0 -14.6 0M676.11 461.55a7.3 7.3 0 1 0 14.6 0a7.3 7.3 0 1 0 -14.6 0M689.02 462.62a7.3 7.3 0 1 0 14.6 0a7.3 7.3 0 1 0 -14.6 0M689.37 463.02a7.3 7.3 0 1 0 14.6 0a7.3 7.3 0 1 0 -14.6 0M702.28 464.03a7.3 7.3 0 1 0 14.6 0a7.3 7.3 0 1 0 -14.6 0M702.63 464.43a7.3 7.3 0 1 0 14.6 0a7.3 7.3 0 1 0 -14.6 0M715.54 465.38a7.3 7.3 0 1 0 14.6 0a7.3 7.3 0 1 0 -14.6 0M715.89 465.78a7.3 7.3 0 1 0 14.6 0a7.3 7.3 0 1 0 -14.6 0M728.80 466.67a7.3 7.3 0 1 0 14.6 0a7.3 7.3 0 1 0 -14.6 0M729.15 467.07a7.3 7.3 0 1 0 14.6 0a7.3 7.3 0 1 0 -14.6 0M742.07 467.90a7.3 7.3 0 1 0 14.6 0a7.3 7.3 0 1 0 -14.6 0M742.42 468.30a7.3 7.3 0 1 0 14.6 0a7.3 7.3 0 1 0 -14.6 0M755.33 469.09a7.3 7.3 0 1 0 14.6 0a7.3 7.3 0 1 0 -14.6 0M755.68 469.49a7.3 7.3 0 1 0 14.6 0a7.3 7.3 0 1 0 -14.6 0M768.59 470.22a7.3 7.3 0 1 0 14.6 0a7.3 7.3 0 1 0 -14.6 0M768.94 470.62a7.3 7.3 0 1 0 14.6 0a7.3 7.3 0 1 0 -14.6 0M781.85 471.31a7.3 7.3 0 1 0 14.6 0a7.3 7.3 0 1 0 -14.6 0M782.20 471.71a7.3 7.3 0 1 0 14.6 0a7.3 7.3 0 1 0 -14.6 0M795.11 472.35a7.3 7.3 0 1 0 14.6 0a7.3 7.3 0 1 0 -14.6 0M795.46 472.75a7.3 7.3 0 1 0 14.6 0a7.3 7.3 0 1 0 -14.6 0M808.38 473.34a7.3 7.3 0 1 0 14.6 0a7.3 7.3 0 1 0 -14.6 0M808.73 473.74a7.3 7.3 0 1 0 14.6 0a7.3 7.3 0 1 0 -14.6 0M821.64 474.30a7.3 7.3 0 1 0 14.6 0a7.3 7.3 0 1 0 -14.6 0M821.99 474.70a7.3 7.3 0 1 0 14.6 0a7.3 7.3 0 1 0 -14.6 0M834.90 475.22a7.3 7.3 0 1 0 14.6 0a7.3 7.3 0 1 0 -14.6 0M835.25 475.62a7.3 7.3 0 1 0 14.6 0a7.3 7.3 0 1 0 -14.6 0M848.16 476.10a7.3 7.3 0 1 0 14.6 0a7.3 7.3 0 1 0 -14.6 0M848.51 476.50a7.3 7.3 0 1 0 14.6 0a7.3 7.3 0 1 0 -14.6 0M861.42 476.94a7.3 7.3 0 1 0 14.6 0a7.3 7.3 0 1 0 -14.6 0M861.77 477.34a7.3 7.3 0 1 0 14.6 0a7.3 7.3 0 1 0 -14.6 0M874.69 477.75a7.3 7.3 0 1 0 14.6 0a7.3 7.3 0 1 0 -14.6 0M875.04 478.15a7.3 7.3 0 1 0 14.6 0a7.3 7.3 0 1 0 -14.6 0M887.95 478.52a7.3 7.3 0 1 0 14.6 0a7.3 7.3 0 1 0 -14.6 0M888.30 478.92a7.3 7.3 0 1 0 14.6 0a7.3 7.3 0 1 0 -14.6 0M901.21 479.26a7.3 7.3 0 1 0 14.6 0a7.3 7.3 0 1 0 -14.6 0M901.56 479.66a7.3 7.3 0 1 0 14.6 0a7.3 7.3 0 1 0 -14.6 0M914.47 479.98a7.3 7.3 0 1 0 14.6 0a7.3 7.3 0 1 0 -14.6 0M914.82 480.38a7.3 7.3 0 1 0 14.6 0a7.3 7.3 0 1 0 -14.6 0M927.73 480.66a7.3 7.3 0 1 0 14.6 0a7.3 7.3 0 1 0 -14.6 0M928.08 481.06a7.3 7.3 0 1 0 14.6 0a7.3 7.3 0 1 0 -14.6 0M941.00 481.32a7.3 7.3 0 1 0 14.6 0a7.3 7.3 0 1 0 -14.6 0M941.35 481.72a7.3 7.3 0 1 0 14.6 0a7.3 7.3 0 1 0 -14.6 0M954.26 481.95a7.3 7.3 0 1 0 14.6 0a7.3 7.3 0 1 0 -14.6 0M954.61 482.35a7.3 7.3 0 1 0 14.6 0a7.3 7.3 0 1 0 -14.6 0" fill="none" stroke="#9A1330" stroke-width="1.5"/>
<path d="M171.50 623.70h16.2M179.60 615.60v16.2M184.90 665.90h16.2M193.00 657.80v16.2M185.00 668.40h16.2M193.10 660.30v16.2M198.40 685.00h16.2M206.50 676.90v16.2M198.60 687.00h16.2M206.70 678.90v16.2M211.14 699.37h16.2M219.24 691.27v16.2M212.34 701.57h16.2M220.44 693.47v16.2M224.39 709.94h16.2M232.49 701.84v16.2M225.49 711.94h16.2M233.59 703.84v16.2M237.64 718.21h16.2M245.74 710.11v16.2M238.84 720.31h16.2M246.94 712.21v16.2M250.89 725.07h16.2M258.99 716.97v16.2M251.99 727.07h16.2M260.09 718.97v16.2M264.14 730.88h16.2M272.24 722.78v16.2M264.94 732.18h16.2M273.04 724.08v16.2M277.38 735.89h16.2M285.48 727.79v16.2M277.88 736.69h16.2M285.98 728.59v16.2M290.63 740.25h16.2M298.73 732.15v16.2M290.98 740.65h16.2M299.08 732.55v16.2M303.88 744.07h16.2M311.98 735.97v16.2M304.23 744.47h16.2M312.33 736.37v16.2M317.13 747.47h16.2M325.23 739.37v16.2M317.48 747.87h16.2M325.58 739.77v16.2M330.38 750.50h16.2M338.48 742.40v16.2M330.73 750.90h16.2M338.83 742.80v16.2M343.62 753.24h16.2M351.72 745.14v16.2M343.97 753.64h16.2M352.07 745.54v16.2M356.87 755.72h16.2M364.97 747.62v16.2M357.22 756.12h16.2M365.32 748.02v16.2M370.12 757.99h16.2M378.22 749.89v16.2M370.47 758.39h16.2M378.57 750.29v16.2M383.37 760.08h16.2M391.47 751.98v16.2M383.72 760.48h16.2M391.82 752.38v16.2M396.62 762.01h16.2M404.72 753.91v16.2M396.97 762.41h16.2M405.07 754.31v16.2M409.86 763.80h16.2M417.96 755.70v16.2M410.21 764.20h16.2M418.31 756.10v16.2M423.11 765.46h16.2M431.21 757.36v16.2M423.46 765.86h16.2M431.56 757.76v16.2M436.36 767.01h16.2M444.46 758.91v16.2M436.71 767.41h16.2M444.81 759.31v16.2M449.61 768.47h16.2M457.71 760.37v16.2M449.96 768.87h16.2M458.06 760.77v16.2M462.86 769.83h16.2M470.96 761.73v16.2M463.21 770.23h16.2M471.31 762.13v16.2M476.10 771.12h16.2M484.20 763.02v16.2M476.45 771.52h16.2M484.55 763.42v16.2M489.35 772.32h16.2M497.45 764.22v16.2M489.70 772.72h16.2M497.80 764.62v16.2M502.60 773.46h16.2M510.70 765.36v16.2M502.95 773.86h16.2M511.05 765.76v16.2M515.85 774.54h16.2M523.95 766.44v16.2M516.20 774.94h16.2M524.30 766.84v16.2M529.10 775.55h16.2M537.20 767.45v16.2M529.45 775.95h16.2M537.55 767.85v16.2M542.34 776.51h16.2M550.44 768.41v16.2M542.69 776.91h16.2M550.79 768.81v16.2M555.59 777.42h16.2M563.69 769.32v16.2M555.94 777.82h16.2M564.04 769.72v16.2M568.84 778.27h16.2M576.94 770.17v16.2M569.19 778.67h16.2M577.29 770.57v16.2M582.09 779.09h16.2M590.19 770.99v16.2M582.44 779.49h16.2M590.54 771.39v16.2M595.34 779.85h16.2M603.44 771.75v16.2M595.69 780.25h16.2M603.79 772.15v16.2M608.58 780.58h16.2M616.68 772.48v16.2M608.93 780.98h16.2M617.03 772.88v16.2M621.83 781.27h16.2M629.93 773.17v16.2M622.18 781.67h16.2M630.28 773.57v16.2M635.08 781.92h16.2M643.18 773.82v16.2M635.43 782.32h16.2M643.53 774.22v16.2M648.33 782.54h16.2M656.43 774.44v16.2M648.68 782.94h16.2M656.78 774.84v16.2M661.58 783.13h16.2M669.68 775.03v16.2M661.93 783.53h16.2M670.03 775.43v16.2M674.82 783.68h16.2M682.92 775.58v16.2M675.17 784.08h16.2M683.27 775.98v16.2M688.07 784.21h16.2M696.17 776.11v16.2M688.42 784.61h16.2M696.52 776.51v16.2M701.32 784.71h16.2M709.42 776.61v16.2M701.67 785.11h16.2M709.77 777.01v16.2M714.57 785.18h16.2M722.67 777.08v16.2M714.92 785.58h16.2M723.02 777.48v16.2M727.82 785.63h16.2M735.92 777.53v16.2M728.17 786.03h16.2M736.27 777.93v16.2M741.06 786.06h16.2M749.16 777.96v16.2M741.41 786.46h16.2M749.51 778.36v16.2M754.31 786.46h16.2M762.41 778.36v16.2M754.66 786.86h16.2M762.76 778.76v16.2M767.56 786.84h16.2M775.66 778.74v16.2M767.91 787.24h16.2M776.01 779.14v16.2M780.81 787.21h16.2M788.91 779.11v16.2M781.16 787.61h16.2M789.26 779.51v16.2M794.06 787.55h16.2M802.16 779.45v16.2M794.41 787.95h16.2M802.51 779.85v16.2M807.30 787.87h16.2M815.40 779.77v16.2M807.65 788.27h16.2M815.75 780.17v16.2M820.55 788.18h16.2M828.65 780.08v16.2M820.90 788.58h16.2M829.00 780.48v16.2M833.80 788.48h16.2M841.90 780.38v16.2M834.15 788.88h16.2M842.25 780.78v16.2M847.05 788.75h16.2M855.15 780.65v16.2M847.40 789.15h16.2M855.50 781.05v16.2M860.30 789.02h16.2M868.40 780.92v16.2M860.65 789.42h16.2M868.75 781.32v16.2M873.54 789.27h16.2M881.64 781.17v16.2M873.89 789.67h16.2M881.99 781.57v16.2M886.79 789.50h16.2M894.89 781.40v16.2M887.14 789.90h16.2M895.24 781.80v16.2M900.04 789.73h16.2M908.14 781.63v16.2M900.39 790.13h16.2M908.49 782.03v16.2M913.29 789.94h16.2M921.39 781.84v16.2M913.64 790.34h16.2M921.74 782.24v16.2M926.54 790.14h16.2M934.64 782.04v16.2M926.89 790.54h16.2M934.99 782.44v16.2M939.78 790.33h16.2M947.88 782.23v16.2M940.13 790.73h16.2M948.23 782.63v16.2M953.03 790.51h16.2M961.13 782.41v16.2M953.38 790.91h16.2M961.48 782.81v16.2" fill="none" stroke="#0A66AC" stroke-width="1.35"/>
<path d="M170.70 480.70h16.2M178.80 472.60v16.2M184.40 555.20h16.2M192.50 547.10v16.2M184.50 558.30h16.2M192.60 550.20v16.2M197.40 589.00h16.2M205.50 580.90v16.2M197.50 591.50h16.2M205.60 583.40v16.2M210.76 614.18h16.2M218.86 606.08v16.2M211.96 616.38h16.2M220.06 608.28v16.2M223.98 632.40h16.2M232.08 624.30v16.2M225.08 634.40h16.2M233.18 626.30v16.2M237.20 647.41h16.2M245.30 639.31v16.2M238.40 649.51h16.2M246.50 641.41v16.2M250.42 659.95h16.2M258.52 651.85v16.2M251.52 661.95h16.2M259.62 653.85v16.2M263.64 670.54h16.2M271.74 662.44v16.2M264.44 671.84h16.2M272.54 663.74v16.2M276.86 679.62h16.2M284.96 671.52v16.2M277.36 680.42h16.2M285.46 672.32v16.2M290.08 687.48h16.2M298.18 679.38v16.2M290.43 687.88h16.2M298.53 679.78v16.2M303.30 694.38h16.2M311.40 686.28v16.2M303.65 694.78h16.2M311.75 686.68v16.2M316.52 700.49h16.2M324.62 692.39v16.2M316.87 700.89h16.2M324.97 692.79v16.2M329.74 705.95h16.2M337.84 697.85v16.2M330.09 706.35h16.2M338.19 698.25v16.2M342.96 710.88h16.2M351.06 702.78v16.2M343.31 711.28h16.2M351.41 703.18v16.2M356.18 715.36h16.2M364.28 707.26v16.2M356.53 715.76h16.2M364.63 707.66v16.2M369.40 719.46h16.2M377.50 711.36v16.2M369.75 719.86h16.2M377.85 711.76v16.2M382.62 723.23h16.2M390.72 715.13v16.2M382.97 723.63h16.2M391.07 715.53v16.2M395.84 726.71h16.2M403.94 718.61v16.2M396.19 727.11h16.2M404.29 719.01v16.2M409.06 729.94h16.2M417.16 721.84v16.2M409.41 730.34h16.2M417.51 722.24v16.2M422.28 732.94h16.2M430.38 724.84v16.2M422.63 733.34h16.2M430.73 725.24v16.2M435.50 735.75h16.2M443.60 727.65v16.2M435.85 736.15h16.2M443.95 728.05v16.2M448.72 738.37h16.2M456.82 730.27v16.2M449.07 738.77h16.2M457.17 730.67v16.2M461.94 740.82h16.2M470.04 732.72v16.2M462.29 741.22h16.2M470.39 733.12v16.2M475.16 743.13h16.2M483.26 735.03v16.2M475.51 743.53h16.2M483.61 735.43v16.2M488.38 745.30h16.2M496.48 737.20v16.2M488.73 745.70h16.2M496.83 737.60v16.2M501.60 747.33h16.2M509.70 739.23v16.2M501.95 747.73h16.2M510.05 739.63v16.2M514.82 749.25h16.2M522.92 741.15v16.2M515.17 749.65h16.2M523.27 741.55v16.2M528.04 751.06h16.2M536.14 742.96v16.2M528.39 751.46h16.2M536.49 743.36v16.2M541.26 752.77h16.2M549.36 744.67v16.2M541.61 753.17h16.2M549.71 745.07v16.2M554.48 754.38h16.2M562.58 746.28v16.2M554.83 754.78h16.2M562.93 746.68v16.2M567.70 755.90h16.2M575.80 747.80v16.2M568.05 756.30h16.2M576.15 748.20v16.2M580.92 757.34h16.2M589.02 749.24v16.2M581.27 757.74h16.2M589.37 749.64v16.2M594.14 758.71h16.2M602.24 750.61v16.2M594.49 759.11h16.2M602.59 751.01v16.2M607.36 760.00h16.2M615.46 751.90v16.2M607.71 760.40h16.2M615.81 752.30v16.2M620.58 761.22h16.2M628.68 753.12v16.2M620.93 761.62h16.2M629.03 753.52v16.2M633.80 762.38h16.2M641.90 754.28v16.2M634.15 762.78h16.2M642.25 754.68v16.2M647.02 763.48h16.2M655.12 755.38v16.2M647.37 763.88h16.2M655.47 755.78v16.2M660.24 764.52h16.2M668.34 756.42v16.2M660.59 764.92h16.2M668.69 756.82v16.2M673.46 765.51h16.2M681.56 757.41v16.2M673.81 765.91h16.2M681.91 757.81v16.2M686.68 766.45h16.2M694.78 758.35v16.2M687.03 766.85h16.2M695.13 758.75v16.2M699.90 767.35h16.2M708.00 759.25v16.2M700.25 767.75h16.2M708.35 759.65v16.2M713.12 768.20h16.2M721.22 760.10v16.2M713.47 768.60h16.2M721.57 760.50v16.2M726.34 769.02h16.2M734.44 760.92v16.2M726.69 769.42h16.2M734.79 761.32v16.2M739.56 769.79h16.2M747.66 761.69v16.2M739.91 770.19h16.2M748.01 762.09v16.2M752.78 770.53h16.2M760.88 762.43v16.2M753.13 770.93h16.2M761.23 762.83v16.2M766.00 771.24h16.2M774.10 763.14v16.2M766.35 771.64h16.2M774.45 763.54v16.2M779.22 771.91h16.2M787.32 763.81v16.2M779.57 772.31h16.2M787.67 764.21v16.2M792.44 772.56h16.2M800.54 764.46v16.2M792.79 772.96h16.2M800.89 764.86v16.2M805.66 773.18h16.2M813.76 765.08v16.2M806.01 773.58h16.2M814.11 765.48v16.2M818.88 773.77h16.2M826.98 765.67v16.2M819.23 774.17h16.2M827.33 766.07v16.2M832.10 774.34h16.2M840.20 766.24v16.2M832.45 774.74h16.2M840.55 766.64v16.2M845.32 774.88h16.2M853.42 766.78v16.2M845.67 775.28h16.2M853.77 767.18v16.2M858.54 775.41h16.2M866.64 767.31v16.2M858.89 775.81h16.2M866.99 767.71v16.2M871.76 775.91h16.2M879.86 767.81v16.2M872.11 776.31h16.2M880.21 768.21v16.2M884.98 776.40h16.2M893.08 768.30v16.2M885.33 776.80h16.2M893.43 768.70v16.2M898.20 776.86h16.2M906.30 768.76v16.2M898.55 777.26h16.2M906.65 769.16v16.2M911.42 777.31h16.2M919.52 769.21v16.2M911.77 777.71h16.2M919.87 769.61v16.2M924.64 777.75h16.2M932.74 769.65v16.2M924.99 778.15h16.2M933.09 770.05v16.2M937.86 778.17h16.2M945.96 770.07v16.2M938.21 778.57h16.2M946.31 770.47v16.2M951.08 778.58h16.2M959.18 770.48v16.2M951.43 778.98h16.2M959.53 770.88v16.2" fill="none" stroke="#0B750E" stroke-width="1.35"/>
<path d="M173.20 319.90h16.2M181.30 311.80v16.2M186.20 432.60h16.2M194.30 424.50v16.2M186.40 438.00h16.2M194.50 429.90v16.2M198.90 484.30h16.2M207.00 476.20v16.2M199.20 486.60h16.2M207.30 478.50v16.2M212.55 519.46h16.2M220.65 511.36v16.2M213.75 521.66h16.2M221.85 513.56v16.2M225.80 546.19h16.2M233.90 538.09v16.2M226.90 548.19h16.2M235.00 540.09v16.2M239.05 568.31h16.2M247.15 560.21v16.2M240.25 570.41h16.2M248.35 562.31v16.2M252.30 586.84h16.2M260.40 578.74v16.2M253.40 588.84h16.2M261.50 580.74v16.2M265.55 602.57h16.2M273.65 594.47v16.2M266.35 603.87h16.2M274.45 595.77v16.2M278.80 616.07h16.2M286.90 607.97v16.2M279.30 616.87h16.2M287.40 608.77v16.2M292.05 627.81h16.2M300.15 619.71v16.2M292.40 628.21h16.2M300.50 620.11v16.2M305.30 638.12h16.2M313.40 630.02v16.2M305.65 638.52h16.2M313.75 630.42v16.2M318.55 647.27h16.2M326.65 639.17v16.2M318.90 647.67h16.2M327.00 639.57v16.2M331.80 655.46h16.2M339.90 647.36v16.2M332.15 655.86h16.2M340.25 647.76v16.2M345.05 662.85h16.2M353.15 654.75v16.2M345.40 663.25h16.2M353.50 655.15v16.2M358.30 669.56h16.2M366.40 661.46v16.2M358.65 669.96h16.2M366.75 661.86v16.2M371.55 675.70h16.2M379.65 667.60v16.2M371.90 676.10h16.2M380.00 668.00v16.2M384.80 681.35h16.2M392.90 673.25v16.2M385.15 681.75h16.2M393.25 673.65v16.2M398.05 686.56h16.2M406.15 678.46v16.2M398.40 686.96h16.2M406.50 678.86v16.2M411.30 691.39h16.2M419.40 683.29v16.2M411.65 691.79h16.2M419.75 683.69v16.2M424.55 695.88h16.2M432.65 687.78v16.2M424.90 696.28h16.2M433.00 688.18v16.2M437.80 700.07h16.2M445.90 691.97v16.2M438.15 700.47h16.2M446.25 692.37v16.2M451.05 703.99h16.2M459.15 695.89v16.2M451.40 704.39h16.2M459.50 696.29v16.2M464.30 707.66h16.2M472.40 699.56v16.2M464.65 708.06h16.2M472.75 699.96v16.2M477.55 711.11h16.2M485.65 703.01v16.2M477.90 711.51h16.2M486.00 703.41v16.2M490.80 714.35h16.2M498.90 706.25v16.2M491.15 714.75h16.2M499.25 706.65v16.2M504.05 717.41h16.2M512.15 709.31v16.2M504.40 717.81h16.2M512.50 709.71v16.2M517.30 720.29h16.2M525.40 712.19v16.2M517.65 720.69h16.2M525.75 712.59v16.2M530.55 723.01h16.2M538.65 714.91v16.2M530.90 723.41h16.2M539.00 715.31v16.2M543.80 725.58h16.2M551.90 717.48v16.2M544.15 725.98h16.2M552.25 717.88v16.2M557.05 728.01h16.2M565.15 719.91v16.2M557.40 728.41h16.2M565.50 720.31v16.2M570.30 730.31h16.2M578.40 722.21v16.2M570.65 730.71h16.2M578.75 722.61v16.2M583.55 732.50h16.2M591.65 724.40v16.2M583.90 732.90h16.2M592.00 724.80v16.2M596.80 734.57h16.2M604.90 726.47v16.2M597.15 734.97h16.2M605.25 726.87v16.2M610.05 736.53h16.2M618.15 728.43v16.2M610.40 736.93h16.2M618.50 728.83v16.2M623.30 738.40h16.2M631.40 730.30v16.2M623.65 738.80h16.2M631.75 730.70v16.2M636.55 740.18h16.2M644.65 732.08v16.2M636.90 740.58h16.2M645.00 732.48v16.2M649.80 741.87h16.2M657.90 733.77v16.2M650.15 742.27h16.2M658.25 734.17v16.2M663.05 743.48h16.2M671.15 735.38v16.2M663.40 743.88h16.2M671.50 735.78v16.2M676.30 745.02h16.2M684.40 736.92v16.2M676.65 745.42h16.2M684.75 737.32v16.2M689.55 746.48h16.2M697.65 738.38v16.2M689.90 746.88h16.2M698.00 738.78v16.2M702.80 747.88h16.2M710.90 739.78v16.2M703.15 748.28h16.2M711.25 740.18v16.2M716.05 749.21h16.2M724.15 741.11v16.2M716.40 749.61h16.2M724.50 741.51v16.2M729.30 750.48h16.2M737.40 742.38v16.2M729.65 750.88h16.2M737.75 742.78v16.2M742.55 751.69h16.2M750.65 743.59v16.2M742.90 752.09h16.2M751.00 743.99v16.2M755.80 752.86h16.2M763.90 744.76v16.2M756.15 753.26h16.2M764.25 745.16v16.2M769.05 753.97h16.2M777.15 745.87v16.2M769.40 754.37h16.2M777.50 746.27v16.2M782.30 755.03h16.2M790.40 746.93v16.2M782.65 755.43h16.2M790.75 747.33v16.2M795.55 756.04h16.2M803.65 747.94v16.2M795.90 756.44h16.2M804.00 748.34v16.2M808.80 757.02h16.2M816.90 748.92v16.2M809.15 757.42h16.2M817.25 749.32v16.2M822.05 757.95h16.2M830.15 749.85v16.2M822.40 758.35h16.2M830.50 750.25v16.2M835.30 758.84h16.2M843.40 750.74v16.2M835.65 759.24h16.2M843.75 751.14v16.2M848.55 759.70h16.2M856.65 751.60v16.2M848.90 760.10h16.2M857.00 752.00v16.2M861.80 760.52h16.2M869.90 752.42v16.2M862.15 760.92h16.2M870.25 752.82v16.2M875.05 761.31h16.2M883.15 753.21v16.2M875.40 761.71h16.2M883.50 753.61v16.2M888.30 762.06h16.2M896.40 753.96v16.2M888.65 762.46h16.2M896.75 754.36v16.2M901.55 762.79h16.2M909.65 754.69v16.2M901.90 763.19h16.2M910.00 755.09v16.2M914.80 763.48h16.2M922.90 755.38v16.2M915.15 763.88h16.2M923.25 755.78v16.2M928.05 764.15h16.2M936.15 756.05v16.2M928.40 764.55h16.2M936.50 756.45v16.2M941.30 764.79h16.2M949.40 756.69v16.2M941.65 765.19h16.2M949.75 757.09v16.2M954.55 765.41h16.2M962.65 757.31v16.2M954.90 765.81h16.2M963.00 757.71v16.2" fill="none" stroke="#9A1330" stroke-width="1.35"/>
<path d="M157.9 645.7 L179.0 645.7 L192.1 653.0 L206.8 657.0 L221.4 658.9 L230.0 660.3 L233.0 660.9 L236.0 661.3 L239.0 661.7 L242.0 662.0 L245.0 662.4 L248.0 662.7 L251.0 663.0 L254.0 663.3 L257.0 663.7 L260.0 664.1 L263.0 664.5 L266.0 665.0 L269.0 665.6 L272.0 666.1 L275.0 666.6 L278.0 667.1 L281.0 667.5 L284.0 667.9 L287.0 668.2 L290.0 668.6 L293.0 668.9 L296.0 669.2 L299.0 669.5 L302.0 669.8 L305.0 670.1 L308.0 670.4 L311.0 670.7 L314.0 671.0 L317.0 671.3 L320.0 671.6 L323.0 672.0 L326.0 672.3 L329.0 672.6 L332.0 672.9 L335.0 673.3 L338.0 673.6 L341.0 673.8 L344.0 674.1 L347.0 674.4 L350.0 674.6 L353.0 674.8 L356.0 675.1 L359.0 675.3 L362.0 675.5 L365.0 675.7 L368.0 675.9 L371.0 676.1 L374.0 676.3 L377.0 676.6 L380.0 676.8 L383.0 677.0 L386.0 677.3 L389.0 677.6 L392.0 677.8 L395.0 678.1 L398.0 678.3 L401.0 678.6 L404.0 678.9 L407.0 679.1 L410.0 679.4 L413.0 679.6 L416.0 679.9 L419.0 680.1 L422.0 680.4 L425.0 680.7 L428.0 680.9 L431.0 681.2 L434.0 681.4 L437.0 681.7 L440.0 681.9 L443.0 682.2 L446.0 682.4 L449.0 682.7 L452.0 682.9 L455.0 683.2 L458.0 683.4 L461.0 683.6 L464.0 683.9 L467.0 684.1 L470.0 684.3 L473.0 684.5 L476.0 684.7 L479.0 684.9 L482.0 685.1 L485.0 685.3 L488.0 685.5 L491.0 685.7 L494.0 685.9 L497.0 686.1 L500.0 686.3 L503.0 686.5 L506.0 686.7 L509.0 686.9 L512.0 687.1 L515.0 687.3 L518.0 687.4 L521.0 687.6 L524.0 687.8 L527.0 688.0 L530.0 688.2 L533.0 688.3 L536.0 688.5 L539.0 688.7 L542.0 688.9 L545.0 689.1 L548.0 689.2 L551.0 689.4 L554.0 689.6 L557.0 689.7 L560.0 689.9 L563.0 690.1 L566.0 690.2 L569.0 690.4 L572.0 690.6 L575.0 690.8 L578.0 690.9 L581.0 691.1 L584.0 691.3 L587.0 691.4 L590.0 691.6 L593.0 691.8 L596.0 691.9 L599.0 692.1 L602.0 692.3 L605.0 692.4 L608.0 692.6 L611.0 692.8 L614.0 692.9 L617.0 693.1 L620.0 693.2 L623.0 693.4 L626.0 693.6 L629.0 693.7 L632.0 693.9 L635.0 694.1 L638.0 694.2 L641.0 694.4 L644.0 694.5 L647.0 694.7 L650.0 694.9 L653.0 695.0 L656.0 695.2 L659.0 695.3 L662.0 695.5 L665.0 695.6 L668.0 695.8 L671.0 696.0 L674.0 696.1 L677.0 696.3 L680.0 696.4 L683.0 696.6 L686.0 696.7 L689.0 696.8 L692.0 697.0 L695.0 697.1 L698.0 697.3 L701.0 697.4 L704.0 697.6 L707.0 697.7 L710.0 697.8 L713.0 698.0 L716.0 698.1 L719.0 698.3 L722.0 698.4 L725.0 698.5 L728.0 698.7 L731.0 698.8 L734.0 698.9 L737.0 699.0 L740.0 699.2 L743.0 699.3 L746.0 699.4 L749.0 699.5 L752.0 699.7 L755.0 699.8 L758.0 699.9 L761.0 700.0 L764.0 700.1 L767.0 700.3 L770.0 700.4 L773.0 700.5 L776.0 700.6 L779.0 700.7 L782.0 700.9 L785.0 701.0 L788.0 701.1 L791.0 701.2 L794.0 701.3 L797.0 701.4 L800.0 701.5 L803.0 701.7 L806.0 701.8 L809.0 701.9 L812.0 702.0 L815.0 702.1 L818.0 702.2 L821.0 702.3 L824.0 702.4 L827.0 702.5 L830.0 702.7 L833.0 702.8 L836.0 702.9 L839.0 703.0 L842.0 703.1 L845.0 703.2 L848.0 703.3 L851.0 703.4 L854.0 703.6 L857.0 703.7 L860.0 703.8 L863.0 703.9 L866.0 704.0 L869.0 704.1 L872.0 704.2 L875.0 704.3 L878.0 704.4 L881.0 704.5 L884.0 704.6 L887.0 704.8 L890.0 704.9 L893.0 705.0 L896.0 705.1 L899.0 705.2 L902.0 705.3 L905.0 705.4 L908.0 705.5 L911.0 705.6 L914.0 705.7 L917.0 705.8 L920.0 705.9 L923.0 706.0 L926.0 706.1 L929.0 706.2 L932.0 706.3 L935.0 706.4 L938.0 706.5 L941.0 706.6 L944.0 706.7 L947.0 706.8 L950.0 706.9 L953.0 707.0 L956.0 707.1 L959.0 707.2 L962.0 707.3 L965.0 707.4" fill="none" stroke="#0A66AC" stroke-width="2.8" stroke-linejoin="round"/>
<path d="M157.9 583.6 L178.5 583.6 L193.1 595.0 L206.8 599.9 L220.4 602.8 L230.0 604.9 L233.0 605.5 L236.0 606.0 L239.0 606.6 L242.0 607.0 L245.0 607.6 L248.0 608.1 L251.0 608.8 L254.0 609.4 L257.0 609.9 L260.0 610.4 L263.0 610.8 L266.0 611.1 L269.0 611.5 L272.0 611.8 L275.0 612.2 L278.0 612.6 L281.0 613.0 L284.0 613.4 L287.0 613.8 L290.0 614.2 L293.0 614.7 L296.0 615.1 L299.0 615.7 L302.0 616.2 L305.0 616.7 L308.0 617.3 L311.0 617.8 L314.0 618.3 L317.0 618.9 L320.0 619.4 L323.0 620.0 L326.0 620.6 L329.0 621.1 L332.0 621.7 L335.0 622.2 L338.0 622.7 L341.0 623.2 L344.0 623.6 L347.0 624.0 L350.0 624.3 L353.0 624.6 L356.0 624.9 L359.0 625.2 L362.0 625.5 L365.0 625.8 L368.0 626.0 L371.0 626.3 L374.0 626.6 L377.0 626.9 L380.0 627.3 L383.0 627.6 L386.0 628.0 L389.0 628.4 L392.0 628.7 L395.0 629.0 L398.0 629.2 L401.0 629.5 L404.0 629.8 L407.0 630.0 L410.0 630.3 L413.0 630.5 L416.0 630.8 L419.0 631.1 L422.0 631.3 L425.0 631.6 L428.0 631.8 L431.0 632.1 L434.0 632.4 L437.0 632.6 L440.0 632.9 L443.0 633.1 L446.0 633.4 L449.0 633.6 L452.0 633.9 L455.0 634.2 L458.0 634.4 L461.0 634.7 L464.0 635.0 L467.0 635.2 L470.0 635.5 L473.0 635.8 L476.0 636.1 L479.0 636.4 L482.0 636.7 L485.0 637.0 L488.0 637.3 L491.0 637.6 L494.0 637.9 L497.0 638.2 L500.0 638.5 L503.0 638.8 L506.0 639.1 L509.0 639.4 L512.0 639.7 L515.0 640.0 L518.0 640.3 L521.0 640.6 L524.0 640.9 L527.0 641.1 L530.0 641.4 L533.0 641.7 L536.0 641.9 L539.0 642.2 L542.0 642.4 L545.0 642.7 L548.0 642.9 L551.0 643.2 L554.0 643.4 L557.0 643.7 L560.0 643.9 L563.0 644.2 L566.0 644.4 L569.0 644.6 L572.0 644.9 L575.0 645.1 L578.0 645.3 L581.0 645.5 L584.0 645.7 L587.0 646.0 L590.0 646.2 L593.0 646.4 L596.0 646.6 L599.0 646.8 L602.0 647.0 L605.0 647.1 L608.0 647.3 L611.0 647.5 L614.0 647.7 L617.0 647.8 L620.0 648.0 L623.0 648.2 L626.0 648.4 L629.0 648.5 L632.0 648.7 L635.0 648.9 L638.0 649.1 L641.0 649.2 L644.0 649.4 L647.0 649.6 L650.0 649.8 L653.0 650.0 L656.0 650.2 L659.0 650.4 L662.0 650.7 L665.0 650.9 L668.0 651.1 L671.0 651.4 L674.0 651.6 L677.0 651.9 L680.0 652.1 L683.0 652.4 L686.0 652.7 L689.0 652.9 L692.0 653.2 L695.0 653.4 L698.0 653.7 L701.0 653.9 L704.0 654.1 L707.0 654.4 L710.0 654.6 L713.0 654.8 L716.0 655.0 L719.0 655.2 L722.0 655.4 L725.0 655.6 L728.0 655.8 L731.0 656.0 L734.0 656.2 L737.0 656.3 L740.0 656.5 L743.0 656.7 L746.0 656.9 L749.0 657.0 L752.0 657.2 L755.0 657.4 L758.0 657.5 L761.0 657.7 L764.0 657.9 L767.0 658.0 L770.0 658.2 L773.0 658.3 L776.0 658.5 L779.0 658.6 L782.0 658.8 L785.0 658.9 L788.0 659.1 L791.0 659.2 L794.0 659.4 L797.0 659.5 L800.0 659.7 L803.0 659.8 L806.0 659.9 L809.0 660.1 L812.0 660.2 L815.0 660.4 L818.0 660.5 L821.0 660.6 L824.0 660.8 L827.0 660.9 L830.0 661.1 L833.0 661.2 L836.0 661.3 L839.0 661.5 L842.0 661.6 L845.0 661.7 L848.0 661.9 L851.0 662.0 L854.0 662.2 L857.0 662.3 L860.0 662.4 L863.0 662.6 L866.0 662.7 L869.0 662.8 L872.0 663.0 L875.0 663.1 L878.0 663.2 L881.0 663.3 L884.0 663.5 L887.0 663.6 L890.0 663.7 L893.0 663.8 L896.0 664.0 L899.0 664.1 L902.0 664.2 L905.0 664.3 L908.0 664.5 L911.0 664.6 L914.0 664.7 L917.0 664.8 L920.0 665.0 L923.0 665.1 L926.0 665.2 L929.0 665.3 L932.0 665.4 L935.0 665.5 L938.0 665.7 L941.0 665.8 L944.0 665.9 L947.0 666.0 L950.0 666.1 L953.0 666.2 L956.0 666.3 L959.0 666.4 L962.0 666.5 L965.0 666.6" fill="none" stroke="#0B750E" stroke-width="2.8" stroke-linejoin="round"/>
<path d="M157.9 525.9 L176.5 525.9 L187.3 536.0 L199.0 543.3 L208.7 547.7 L218.5 550.6 L230.0 553.5 L233.0 554.2 L236.0 554.7 L239.0 555.3 L242.0 555.8 L245.0 556.4 L248.0 557.2 L251.0 558.0 L254.0 558.9 L257.0 559.7 L260.0 560.4 L263.0 561.0 L266.0 561.6 L269.0 562.2 L272.0 562.8 L275.0 563.3 L278.0 563.8 L281.0 564.3 L284.0 564.7 L287.0 565.2 L290.0 565.7 L293.0 566.2 L296.0 566.8 L299.0 567.4 L302.0 568.0 L305.0 568.6 L308.0 569.2 L311.0 569.7 L314.0 570.3 L317.0 570.9 L320.0 571.4 L323.0 571.9 L326.0 572.5 L329.0 573.0 L332.0 573.5 L335.0 574.0 L338.0 574.6 L341.0 575.0 L344.0 575.5 L347.0 576.0 L350.0 576.5 L353.0 576.9 L356.0 577.4 L359.0 577.8 L362.0 578.2 L365.0 578.7 L368.0 579.1 L371.0 579.5 L374.0 580.0 L377.0 580.4 L380.0 580.9 L383.0 581.3 L386.0 581.8 L389.0 582.2 L392.0 582.7 L395.0 583.2 L398.0 583.6 L401.0 584.1 L404.0 584.5 L407.0 585.0 L410.0 585.4 L413.0 585.8 L416.0 586.2 L419.0 586.6 L422.0 587.0 L425.0 587.4 L428.0 587.8 L431.0 588.1 L434.0 588.5 L437.0 588.9 L440.0 589.2 L443.0 589.6 L446.0 589.9 L449.0 590.2 L452.0 590.5 L455.0 590.8 L458.0 591.1 L461.0 591.4 L464.0 591.7 L467.0 592.0 L470.0 592.3 L473.0 592.6 L476.0 592.9 L479.0 593.2 L482.0 593.6 L485.0 593.9 L488.0 594.2 L491.0 594.5 L494.0 594.8 L497.0 595.1 L500.0 595.5 L503.0 595.8 L506.0 596.1 L509.0 596.4 L512.0 596.8 L515.0 597.1 L518.0 597.4 L521.0 597.7 L524.0 598.0 L527.0 598.4 L530.0 598.7 L533.0 599.0 L536.0 599.3 L539.0 599.7 L542.0 600.0 L545.0 600.3 L548.0 600.7 L551.0 601.0 L554.0 601.3 L557.0 601.7 L560.0 602.0 L563.0 602.3 L566.0 602.7 L569.0 603.0 L572.0 603.3 L575.0 603.6 L578.0 604.0 L581.0 604.3 L584.0 604.6 L587.0 604.9 L590.0 605.2 L593.0 605.5 L596.0 605.8 L599.0 606.1 L602.0 606.4 L605.0 606.7 L608.0 607.0 L611.0 607.2 L614.0 607.5 L617.0 607.8 L620.0 608.1 L623.0 608.4 L626.0 608.6 L629.0 608.9 L632.0 609.2 L635.0 609.4 L638.0 609.7 L641.0 610.0 L644.0 610.2 L647.0 610.5 L650.0 610.8 L653.0 611.0 L656.0 611.3 L659.0 611.5 L662.0 611.8 L665.0 612.0 L668.0 612.3 L671.0 612.5 L674.0 612.8 L677.0 613.0 L680.0 613.2 L683.0 613.5 L686.0 613.7 L689.0 613.9 L692.0 614.2 L695.0 614.4 L698.0 614.6 L701.0 614.9 L704.0 615.1 L707.0 615.3 L710.0 615.6 L713.0 615.8 L716.0 616.0 L719.0 616.2 L722.0 616.4 L725.0 616.7 L728.0 616.9 L731.0 617.1 L734.0 617.3 L737.0 617.5 L740.0 617.8 L743.0 618.0 L746.0 618.2 L749.0 618.4 L752.0 618.6 L755.0 618.8 L758.0 619.0 L761.0 619.2 L764.0 619.5 L767.0 619.7 L770.0 619.9 L773.0 620.1 L776.0 620.3 L779.0 620.5 L782.0 620.7 L785.0 620.9 L788.0 621.1 L791.0 621.3 L794.0 621.5 L797.0 621.7 L800.0 621.9 L803.0 622.1 L806.0 622.3 L809.0 622.5 L812.0 622.7 L815.0 622.9 L818.0 623.0 L821.0 623.2 L824.0 623.4 L827.0 623.6 L830.0 623.8 L833.0 624.0 L836.0 624.2 L839.0 624.3 L842.0 624.5 L845.0 624.7 L848.0 624.9 L851.0 625.0 L854.0 625.2 L857.0 625.4 L860.0 625.6 L863.0 625.7 L866.0 625.9 L869.0 626.1 L872.0 626.2 L875.0 626.4 L878.0 626.6 L881.0 626.7 L884.0 626.9 L887.0 627.1 L890.0 627.2 L893.0 627.4 L896.0 627.6 L899.0 627.7 L902.0 627.9 L905.0 628.0 L908.0 628.2 L911.0 628.3 L914.0 628.5 L917.0 628.7 L920.0 628.8 L923.0 629.0 L926.0 629.1 L929.0 629.3 L932.0 629.4 L935.0 629.6 L938.0 629.7 L941.0 629.8 L944.0 630.0 L947.0 630.1 L950.0 630.3 L953.0 630.4 L956.0 630.6 L959.0 630.7 L962.0 630.8 L965.0 631.0" fill="none" stroke="#9A1330" stroke-width="2.8" stroke-linejoin="round"/>
<path d="M157.9 458.5 L171.3 458.5 L185.3 475.0 L200.2 484.4 L214.2 489.4 L226.7 492.5 L230.0 493.6 L233.0 494.7 L236.0 495.8 L239.0 496.8 L242.0 497.7 L245.0 498.6 L248.0 499.3 L251.0 500.1 L254.0 500.8 L257.0 501.5 L260.0 502.3 L263.0 503.0 L266.0 503.7 L269.0 504.4 L272.0 505.2 L275.0 505.9 L278.0 506.6 L281.0 507.3 L284.0 508.0 L287.0 508.6 L290.0 509.3 L293.0 509.8 L296.0 510.4 L299.0 510.9 L302.0 511.4 L305.0 511.9 L308.0 512.4 L311.0 513.0 L314.0 513.5 L317.0 514.2 L320.0 514.9 L323.0 515.6 L326.0 516.3 L329.0 517.0 L332.0 517.8 L335.0 518.5 L338.0 519.2 L341.0 519.9 L344.0 520.5 L347.0 521.1 L350.0 521.7 L353.0 522.3 L356.0 522.8 L359.0 523.3 L362.0 523.8 L365.0 524.3 L368.0 524.9 L371.0 525.4 L374.0 525.9 L377.0 526.4 L380.0 526.9 L383.0 527.5 L386.0 528.0 L389.0 528.5 L392.0 529.1 L395.0 529.6 L398.0 530.1 L401.0 530.7 L404.0 531.2 L407.0 531.7 L410.0 532.2 L413.0 532.7 L416.0 533.1 L419.0 533.6 L422.0 534.0 L425.0 534.5 L428.0 534.9 L431.0 535.3 L434.0 535.8 L437.0 536.2 L440.0 536.6 L443.0 537.1 L446.0 537.5 L449.0 538.0 L452.0 538.4 L455.0 538.9 L458.0 539.3 L461.0 539.8 L464.0 540.3 L467.0 540.7 L470.0 541.2 L473.0 541.7 L476.0 542.2 L479.0 542.7 L482.0 543.2 L485.0 543.7 L488.0 544.2 L491.0 544.7 L494.0 545.2 L497.0 545.7 L500.0 546.3 L503.0 546.8 L506.0 547.3 L509.0 547.8 L512.0 548.3 L515.0 548.8 L518.0 549.3 L521.0 549.7 L524.0 550.2 L527.0 550.6 L530.0 551.1 L533.0 551.5 L536.0 551.9 L539.0 552.3 L542.0 552.7 L545.0 553.1 L548.0 553.4 L551.0 553.8 L554.0 554.2 L557.0 554.5 L560.0 554.9 L563.0 555.2 L566.0 555.6 L569.0 555.9 L572.0 556.3 L575.0 556.6 L578.0 557.0 L581.0 557.3 L584.0 557.6 L587.0 558.0 L590.0 558.3 L593.0 558.6 L596.0 558.9 L599.0 559.3 L602.0 559.6 L605.0 559.9 L608.0 560.2 L611.0 560.5 L614.0 560.8 L617.0 561.1 L620.0 561.4 L623.0 561.7 L626.0 562.0 L629.0 562.3 L632.0 562.6 L635.0 562.9 L638.0 563.2 L641.0 563.5 L644.0 563.8 L647.0 564.0 L650.0 564.3 L653.0 564.6 L656.0 564.9 L659.0 565.2 L662.0 565.4 L665.0 565.7 L668.0 566.0 L671.0 566.3 L674.0 566.5 L677.0 566.8 L680.0 567.0 L683.0 567.3 L686.0 567.6 L689.0 567.8 L692.0 568.1 L695.0 568.3 L698.0 568.6 L701.0 568.9 L704.0 569.1 L707.0 569.4 L710.0 569.6 L713.0 569.9 L716.0 570.2 L719.0 570.4 L722.0 570.7 L725.0 570.9 L728.0 571.2 L731.0 571.5 L734.0 571.7 L737.0 572.0 L740.0 572.3 L743.0 572.5 L746.0 572.8 L749.0 573.1 L752.0 573.3 L755.0 573.6 L758.0 573.9 L761.0 574.1 L764.0 574.4 L767.0 574.7 L770.0 574.9 L773.0 575.2 L776.0 575.5 L779.0 575.7 L782.0 576.0 L785.0 576.2 L788.0 576.5 L791.0 576.8 L794.0 577.0 L797.0 577.3 L800.0 577.5 L803.0 577.8 L806.0 578.0 L809.0 578.3 L812.0 578.5 L815.0 578.8 L818.0 579.0 L821.0 579.3 L824.0 579.5 L827.0 579.8 L830.0 580.0 L833.0 580.2 L836.0 580.5 L839.0 580.7 L842.0 580.9 L845.0 581.1 L848.0 581.4 L851.0 581.6 L854.0 581.8 L857.0 582.0 L860.0 582.2 L863.0 582.5 L866.0 582.7 L869.0 582.9 L872.0 583.1 L875.0 583.3 L878.0 583.5 L881.0 583.7 L884.0 583.9 L887.0 584.2 L890.0 584.4 L893.0 584.6 L896.0 584.8 L899.0 585.0 L902.0 585.2 L905.0 585.4 L908.0 585.6 L911.0 585.8 L914.0 586.0 L917.0 586.2 L920.0 586.4 L923.0 586.5 L926.0 586.7 L929.0 586.9 L932.0 587.1 L935.0 587.3 L938.0 587.5 L941.0 587.7 L944.0 587.8 L947.0 588.0 L950.0 588.2 L953.0 588.4 L956.0 588.6 L959.0 588.7 L962.0 588.9 L965.0 589.1" fill="none" stroke="#000000" stroke-width="2.8" stroke-linejoin="round"/>
<rect x="544.7" y="26.4" width="396.80" height="364.80" fill="#fff" stroke="#262626" stroke-width="4.5"/>
<circle cx="580.0" cy="46.70" r="7.3" fill="none" stroke="#0A66AC" stroke-width="1.5"/>
<text x="616.3" y="58.80" font-size="30.2" style="fill:#000">LED 300 mA</text>
<circle cx="580.0" cy="82.63" r="7.3" fill="none" stroke="#0B750E" stroke-width="1.5"/>
<text x="616.3" y="94.60" font-size="30.2" style="fill:#000">LED 500 mA</text>
<circle cx="580.0" cy="118.56" r="7.3" fill="none" stroke="#9A1330" stroke-width="1.5"/>
<text x="616.3" y="130.40" font-size="30.2" style="fill:#000">LED 700 mA</text>
<path d="M571.90 154.49h16.2M580.00 146.39v16.2" fill="none" stroke="#0A66AC" stroke-width="1.35"/>
<text x="616.3" y="166.20" font-size="30.2" style="fill:#000">LED 300 mA + Heat Sink</text>
<path d="M571.90 190.42h16.2M580.00 182.32v16.2" fill="none" stroke="#0B750E" stroke-width="1.35"/>
<text x="616.3" y="202.00" font-size="30.2" style="fill:#000">LED 500 mA + Heat Sink</text>
<path d="M571.90 226.35h16.2M580.00 218.25v16.2" fill="none" stroke="#9A1330" stroke-width="1.35"/>
<text x="616.3" y="237.80" font-size="30.2" style="fill:#000">LED 700 mA + Heat Sink</text>
<path d="M552 262.28H609.4" fill="none" stroke="#0A66AC" stroke-width="2.8"/>
<text x="616.3" y="273.60" font-size="30.2" style="fill:#000">LD 500 mA</text>
<path d="M552 298.21H609.4" fill="none" stroke="#0B750E" stroke-width="2.8"/>
<text x="616.3" y="309.40" font-size="30.2" style="fill:#000">LD 700 mA</text>
<path d="M552 334.14H609.4" fill="none" stroke="#9A1330" stroke-width="2.8"/>
<text x="616.3" y="345.20" font-size="30.2" style="fill:#000">LD 900 mA</text>
<path d="M552 370.07H609.4" fill="none" stroke="#000000" stroke-width="2.8"/>
<text x="616.3" y="381.00" font-size="30.2" style="fill:#000">LD 1100 mA</text>
</svg></body></html>
